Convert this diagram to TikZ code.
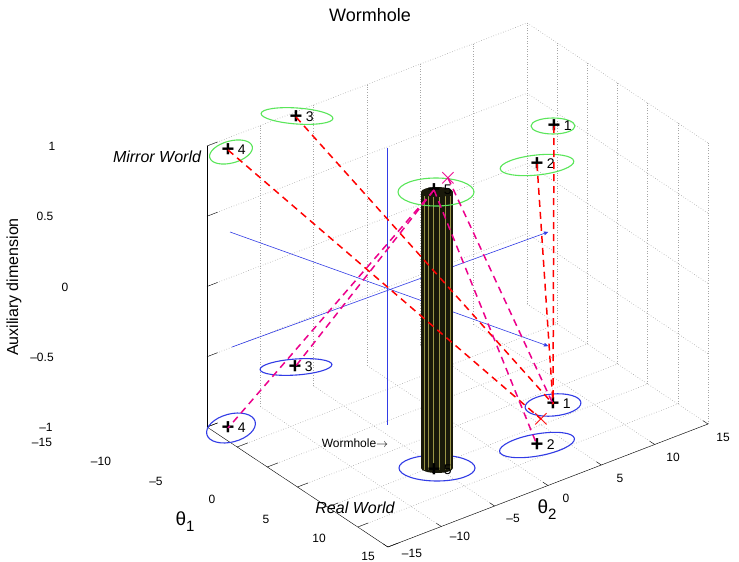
\documentclass[tikz,border=0pt]{standalone}
\usepackage{fontspec}
\setmainfont{Liberation Sans}
\usepackage{tikz}
\usetikzlibrary{arrows, positioning, calc}
\definecolor{mirror}{RGB}{90, 230, 90}
\definecolor{realw}{RGB}{50, 60, 230}
\definecolor{worm}{RGB}{25, 25, 10}
\tikzstyle{grid} = [gray!70, dotted, line width=0.6pt]
\tikzstyle{ring} = [line width=1.1pt]
\tikzstyle{marker} = [inner sep=0pt, font=\fontsize{22}{22}\selectfont\bfseries]
\tikzstyle{num} = [font=\fontsize{14}{14}\selectfont, inner sep=1pt]
\tikzstyle{tick} = [font=\fontsize{12}{12}\selectfont, inner sep=0pt]
\tikzstyle{link} = [dashed, line width=1.5pt, dash pattern=on 7pt off 5pt]
\tikzstyle{axisline} = [realw, line width=0.6pt]

\begin{document}
\begin{tikzpicture}[x=1pt, y=-1pt]
    \useasboundingbox[fill=white] (0,0) rectangle (739,562);

    % box, grid and axes
    \begin{scope}[shift={(457.5,285)}, x={(6.03pt,-4pt)}, y={(10.67pt,4.1pt)}, z={(0pt,140.5pt)}]
        \foreach \t in {-10,-5,...,15} {
            \draw[grid] (-15,\t,-1) -- (-15,\t,1);
            \draw[grid] (\t,15,-1) -- (\t,15,1);
            \draw[grid] (-15,\t,-1) -- (15,\t,-1);
            \draw[grid] (\t,-15,-1) -- (\t,15,-1);
        }
        \foreach \h in {-0.5,0,0.5,1} {
            \draw[grid] (-15,-15,\h) -- (-15,15,\h) -- (15,15,\h);
        }
        \draw (-15,-15,-1) -- (15,-15,-1) -- (15,15,-1);
        \draw (-15,-15,-1) -- (-15,-15,1);
        \foreach \t in {-15,-10,...,15} {
            \draw (\t,-15,-1) -- (\t,-14,-1);
            \draw (15,\t,-1) -- (14.2,\t,-1);
        }
        \foreach \h in {-1,-0.5,...,1} \draw (-15,-15,\h) -- (-15,-14,\h);
    \end{scope}

    % tick labels
    \foreach \v/\px/\py in {1/52/146, 0.5/45/216, 0/65/287, --0.5/42/357, --1/46/427}
        \node[tick] at (\px,\py) {\v};
    \foreach \v/\px/\py in {--15/42/442, --10/101/461, --5/156/481, 0/212/499, 5/266/519, 10/319/538, 15/368/556}
        \node[tick] at (\px,\py) {\v};
    \foreach \v/\px/\py in {--15/412/553, --10/460/536, --5/513/518, 0/566/498, 5/620/478, 10/673/457, 15/723/437}
        \node[tick] at (\px,\py) {\v};
    \node[font=\fontsize{18}{18}\selectfont] (title) at (370,15) {Wormhole};
    \node[rotate=90, font=\fontsize{16}{16}\selectfont] (zlab) at (14,287) {Auxiliary dimension};
    \node[font=\fontsize{19}{19}\selectfont] (t1) at (185,522) {θ\raisebox{-6pt}{\fontsize{15}{15}\selectfont 1}};
    \node[font=\fontsize{19}{19}\selectfont] (t2) at (547,510) {θ\raisebox{-6pt}{\fontsize{15}{15}\selectfont 2}};
    \node[font=\fontsize{16}{16}\selectfont\itshape] (mw) at (157,157) {Mirror World};
    \node[font=\fontsize{16}{16}\selectfont\itshape] (rw) at (355,508) {Real World};

    % blue axes
    \draw[axisline] (387,148) -- (387,425);
    \draw[axisline, ->, >=stealth'] (230,232) -- (548,346);
    \draw[axisline, ->, >=stealth'] (232,347) -- (548,232);

    % rings
    \draw[ring, mirror, rotate around={-4:(297,116)}] (297,116) ellipse (36 and 8);
    \draw[ring, mirror, rotate around={15:(231,152)}] (231,152) ellipse (22 and 11);
    \draw[ring, mirror] (553,126) ellipse (22 and 8);
    \draw[ring, mirror, rotate around={6:(537,165)}] (537,165) ellipse (37 and 10);
    \draw[ring, realw, rotate around={4:(296,367)}] (296,367) ellipse (36 and 8);
    \draw[ring, realw, rotate around={15:(231,428)}] (231,428) ellipse (25 and 14);
    \draw[ring, realw, rotate around={5:(553,405)}] (553,405) ellipse (28 and 11);
    \draw[ring, realw, rotate around={10:(537,445)}] (537,445) ellipse (38 and 11);
    \draw[ring, realw] (437,468) ellipse (38 and 13);

    % wormhole
    \fill[worm] (421,192) rectangle (453,468);
    \fill[worm] (437,468) ellipse (16 and 5);
    \foreach \s in {424,428,433,439,445,450}
        \draw[yellow!55!black, line width=0.4pt] (\s,196) -- (\s,470);
    \draw[ring, mirror] (436,192) ellipse (38 and 14);
    \fill[worm] (437,192) ellipse (16 and 5);
    \node[font=\fontsize{12}{12}\selectfont] (wh) at (355,443) {Wormhole$\rightarrow$};

    % markers
    \foreach \n/\px/\py in {3/296/117, 4/228/150, 1/554/126, 2/537/164, 5/434/190} {
        \node[marker] (m\n) at (\px,\py) {+};
        \node[num, right=2pt of m\n] {\n};
    }
    \foreach \n/\px/\py in {3/295/367, 4/228/428, 1/553/404, 2/537/445, 5/434/470} {
        \node[marker] (r\n) at (\px,\py) {+};
        \node[num, right=2pt of r\n] {\n};
    }
    \node[magenta, font=\fontsize{24}{24}\selectfont, inner sep=0pt] (mx) at (448,178) {$\times$};
    \node[red, font=\fontsize{24}{24}\selectfont, inner sep=0pt] (rx) at (541,419) {$\times$};

    % links
    \draw[link, red] (m4.center) -- (rx.center);
    \draw[link, red] (m3.center) -- (r1.center);
    \draw[link, red] (m1.center) -- (r1.center);
    \draw[link, red] (m2.center) -- (r1.center);
    \draw[link, magenta] (m5.center) -- (r4.center);
    \draw[link, magenta] (m5.center) -- (r3.center);
    \draw[link, magenta] (mx.center) -- (r1.center);
    \draw[link, magenta] (m5.center) -- (r2.center);
\end{tikzpicture}
\end{document}
